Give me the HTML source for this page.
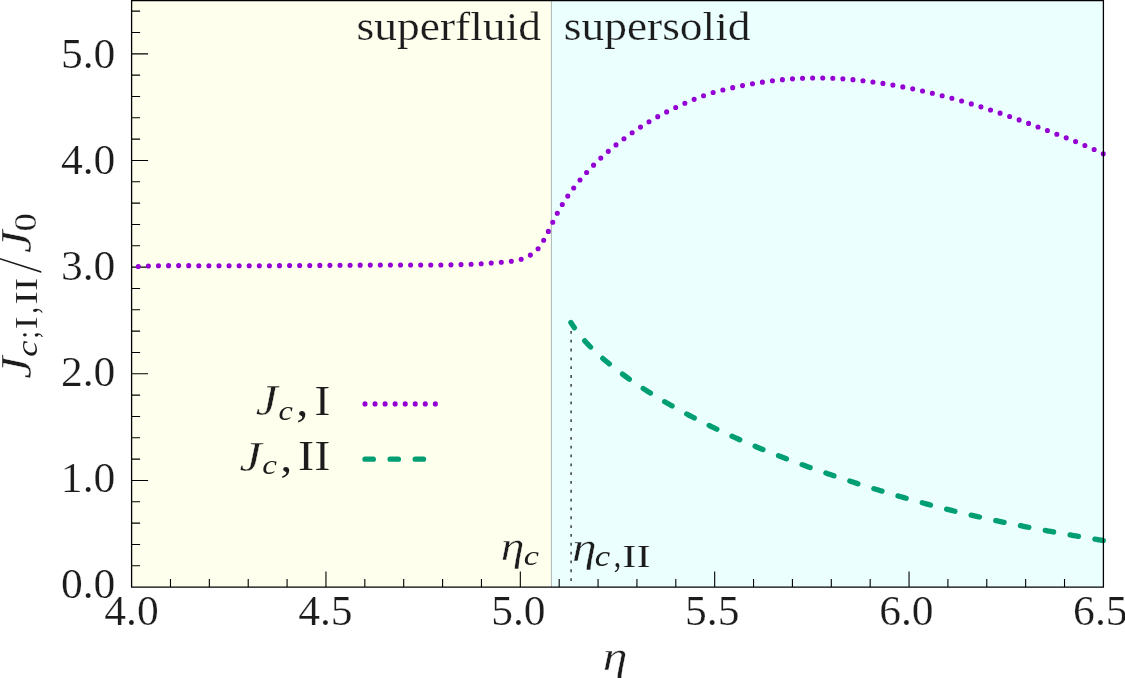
<!DOCTYPE html>
<html lang="en"><head><meta charset="utf-8"><title>Critical current: superfluid vs supersolid</title>
<style>
html,body{margin:0;padding:0;background:#fff;}
body{width:1125px;height:678px;overflow:hidden;}
svg{display:block;}
text{font-family:"Liberation Serif", "DejaVu Serif", serif;fill:#1c1c1c;}
</style></head><body>
<svg width="1125" height="678" viewBox="0 0 1125 678">
<rect width="1125" height="678" fill="#ffffff"/>
<rect x="131.6" y="0" width="419.80" height="587.10" fill="#ffffee"/>
<rect x="551.4" y="0" width="552.00" height="587.10" fill="#ebffff"/>
<line x1="551.4" y1="0" x2="551.4" y2="587.1" stroke="#a9b8b4" stroke-width="1"/>
<line x1="571.1" y1="322.1" x2="571.1" y2="587.1" stroke="#222" stroke-width="1.3" stroke-dasharray="2.8 6.03" stroke-dashoffset="0"/>
<path d="M170.47,587.1v-8 M209.34,587.1v-8 M248.22,587.1v-8 M287.09,587.1v-8 M325.96,587.1v-15.5 M364.83,587.1v-8 M403.70,587.1v-8 M442.58,587.1v-8 M481.45,587.1v-8 M520.32,587.1v-15.5 M559.19,587.1v-8 M598.06,587.1v-8 M636.94,587.1v-8 M675.81,587.1v-8 M714.68,587.1v-15.5 M753.55,587.1v-8 M792.42,587.1v-8 M831.30,587.1v-8 M870.17,587.1v-8 M909.04,587.1v-15.5 M947.91,587.1v-8 M986.78,587.1v-8 M1025.66,587.1v-8 M1064.53,587.1v-8 M131.6,565.77h8.5 M131.6,544.44h8.5 M131.6,523.11h8.5 M131.6,501.78h8.5 M131.6,480.45h16.5 M131.6,459.11h8.5 M131.6,437.78h8.5 M131.6,416.45h8.5 M131.6,395.12h8.5 M131.6,373.79h16.5 M131.6,352.46h8.5 M131.6,331.13h8.5 M131.6,309.80h8.5 M131.6,288.47h8.5 M131.6,267.14h16.5 M131.6,245.81h8.5 M131.6,224.47h8.5 M131.6,203.14h8.5 M131.6,181.81h8.5 M131.6,160.48h16.5 M131.6,139.15h8.5 M131.6,117.82h8.5 M131.6,96.49h8.5 M131.6,75.16h8.5 M131.6,53.83h16.5 M131.6,32.50h8.5 M131.6,11.17h8.5" stroke="#000" stroke-width="1.1" fill="none"/>
<path d="M131.60,266.90 L133.13,266.77 L134.64,266.68 L136.14,266.59 L137.65,266.50 L139.16,266.42 L140.66,266.35 L142.17,266.28 L143.68,266.21 L145.18,266.15 L146.69,266.09 L148.20,266.04 L149.70,265.99 L151.21,265.94 L152.72,265.90 L154.23,265.86 L155.73,265.82 L157.24,265.79 L158.75,265.76 L160.26,265.74 L161.76,265.71 L163.27,265.69 L164.78,265.67 L166.29,265.66 L167.80,265.65 L169.31,265.64 L170.82,265.63 L172.32,265.62 L173.83,265.62 L175.34,265.61 L176.85,265.61 L178.36,265.61 L179.87,265.61 L181.38,265.62 L182.89,265.62 L184.40,265.63 L185.91,265.63 L187.42,265.64 L188.93,265.64 L190.44,265.65 L191.95,265.66 L193.46,265.67 L194.97,265.68 L196.48,265.69 L197.99,265.69 L199.50,265.70 L201.01,265.71 L202.52,265.72 L204.03,265.72 L205.54,265.73 L207.05,265.73 L208.56,265.74 L210.07,265.75 L211.59,265.75 L213.10,265.75 L214.61,265.76 L216.12,265.76 L217.63,265.76 L219.14,265.77 L220.65,265.77 L222.16,265.77 L223.68,265.77 L225.19,265.77 L226.70,265.77 L228.21,265.78 L229.72,265.78 L231.23,265.78 L232.75,265.77 L234.26,265.77 L235.77,265.77 L237.28,265.77 L238.79,265.77 L240.31,265.77 L241.82,265.77 L243.33,265.76 L244.84,265.76 L246.35,265.76 L247.87,265.75 L249.38,265.75 L250.89,265.75 L252.40,265.74 L253.91,265.74 L255.43,265.73 L256.94,265.73 L258.45,265.72 L259.96,265.72 L261.48,265.71 L262.99,265.71 L264.50,265.70 L266.01,265.69 L267.53,265.69 L269.04,265.68 L270.55,265.67 L272.06,265.67 L273.58,265.66 L275.09,265.65 L276.60,265.65 L278.11,265.64 L279.62,265.63 L281.14,265.62 L282.65,265.61 L284.16,265.61 L285.67,265.60 L287.19,265.59 L288.70,265.58 L290.21,265.57 L291.72,265.56 L293.23,265.56 L294.75,265.55 L296.26,265.54 L297.77,265.53 L299.28,265.52 L300.80,265.51 L302.31,265.50 L303.82,265.49 L305.33,265.48 L306.84,265.47 L308.36,265.46 L309.87,265.45 L311.38,265.44 L312.89,265.43 L314.40,265.42 L315.91,265.41 L317.43,265.40 L318.94,265.40 L320.45,265.39 L321.96,265.38 L323.47,265.37 L324.98,265.36 L326.50,265.35 L328.01,265.34 L329.52,265.33 L331.03,265.32 L332.54,265.31 L334.05,265.30 L335.56,265.29 L337.07,265.28 L338.58,265.27 L340.09,265.26 L341.61,265.25 L343.12,265.24 L344.63,265.24 L346.14,265.23 L347.65,265.22 L349.16,265.21 L350.67,265.20 L352.18,265.19 L353.69,265.18 L355.20,265.18 L356.71,265.17 L358.22,265.16 L359.73,265.15 L361.24,265.15 L362.75,265.14 L364.26,265.13 L365.77,265.12 L367.28,265.12 L368.78,265.11 L370.29,265.10 L371.80,265.10 L373.31,265.09 L374.82,265.08 L376.33,265.08 L377.84,265.07 L379.35,265.07 L380.85,265.06 L382.36,265.06 L383.87,265.05 L385.38,265.05 L386.89,265.05 L388.39,265.04 L389.90,265.04 L391.41,265.03 L392.92,265.03 L394.42,265.03 L395.93,265.03 L397.44,265.02 L398.94,265.02 L400.45,265.02 L401.96,265.02 L403.46,265.02 L404.97,265.02 L406.48,265.02 L407.98,265.02 L409.49,265.02 L410.99,265.02 L412.50,265.02 L414.00,265.02 L415.51,265.02 L417.02,265.02 L418.52,265.02 L420.03,265.02 L421.53,265.02 L423.04,265.02 L424.54,265.02 L426.05,265.02 L427.55,265.02 L429.06,265.02 L430.57,265.02 L432.07,265.01 L433.58,265.01 L435.09,265.00 L436.59,264.99 L438.10,264.98 L439.61,264.97 L441.12,264.96 L442.63,264.95 L444.14,264.93 L445.65,264.91 L447.16,264.89 L448.67,264.87 L450.18,264.84 L451.69,264.82 L453.20,264.79 L454.72,264.76 L456.23,264.72 L457.75,264.69 L459.26,264.65 L460.78,264.60 L462.30,264.56 L463.81,264.51 L465.33,264.46 L466.85,264.40 L468.37,264.34 L469.90,264.28 L471.42,264.21 L472.94,264.14 L474.47,264.07 L475.99,263.99 L477.52,263.91 L479.04,263.83 L480.57,263.74 L482.09,263.65 L483.62,263.56 L485.14,263.47 L486.66,263.37 L488.18,263.27 L489.70,263.16 L491.22,263.06 L492.73,262.95 L494.24,262.84 L495.75,262.73 L497.26,262.62 L498.76,262.50 L500.26,262.39 L501.76,262.27 L503.25,262.15 L504.74,262.02 L506.22,261.89 L507.70,261.74 L509.17,261.58 L510.64,261.40 L512.11,261.20 L513.57,260.97 L515.02,260.71 L516.47,260.42 L517.91,260.10 L519.34,259.73 L520.77,259.32 L522.19,258.87 L523.60,258.37 L524.99,257.82 L526.37,257.22 L527.73,256.57 L529.06,255.87 L530.37,255.12 L531.64,254.31 L532.88,253.45 L534.07,252.54 L535.23,251.57 L536.34,250.55 L537.40,249.46 L538.40,248.32 L539.35,247.13 L540.26,245.88 L541.12,244.60 L541.95,243.29 L542.74,241.96 L543.51,240.62 L544.27,239.27 L545.00,237.92 L545.72,236.57 L546.43,235.21 L547.12,233.86 L547.80,232.50 L548.48,231.15 L549.14,229.79 L549.80,228.44 L550.46,227.08 L551.11,225.73 L551.76,224.37 L552.41,223.02 L553.07,221.68 L553.72,220.33 L554.38,218.99 L555.05,217.65 L555.72,216.32 L556.41,214.99 L557.10,213.66 L557.81,212.34 L558.53,211.02 L559.26,209.71 L560.01,208.41 L560.76,207.11 L561.53,205.81 L562.31,204.52 L563.10,203.24 L563.91,201.96 L564.72,200.69 L565.54,199.42 L566.38,198.16 L567.23,196.91 L568.08,195.66 L568.95,194.41 L569.82,193.18 L570.71,191.94 L571.60,190.72 L572.51,189.50 L573.42,188.29 L574.34,187.08 L575.27,185.88 L576.21,184.68 L577.16,183.50 L578.11,182.31 L579.08,181.14 L580.05,179.97 L581.03,178.81 L582.01,177.66 L583.00,176.51 L584.00,175.37 L585.01,174.23 L586.02,173.11 L587.04,171.99 L588.07,170.87 L589.10,169.77 L590.14,168.67 L591.18,167.57 L592.23,166.49 L593.28,165.41 L594.35,164.34 L595.41,163.27 L596.49,162.22 L597.56,161.17 L598.65,160.12 L599.74,159.08 L600.84,158.05 L601.94,157.03 L603.04,156.01 L604.16,155.00 L605.28,153.99 L606.40,152.99 L607.53,152.00 L608.66,151.01 L609.80,150.03 L610.95,149.06 L612.10,148.09 L613.25,147.13 L614.42,146.18 L615.58,145.23 L616.75,144.28 L617.93,143.35 L619.11,142.42 L620.30,141.49 L621.49,140.57 L622.69,139.66 L623.89,138.75 L625.09,137.85 L626.31,136.96 L627.52,136.07 L628.74,135.18 L629.97,134.30 L631.20,133.43 L632.43,132.56 L633.67,131.70 L634.91,130.85 L636.16,130.00 L637.42,129.15 L638.67,128.31 L639.93,127.48 L641.20,126.65 L642.47,125.83 L643.75,125.02 L645.02,124.21 L646.31,123.41 L647.59,122.62 L648.89,121.83 L650.18,121.05 L651.48,120.27 L652.78,119.50 L654.09,118.74 L655.40,117.99 L656.72,117.24 L658.04,116.50 L659.36,115.77 L660.69,115.04 L662.02,114.33 L663.35,113.61 L664.69,112.91 L666.03,112.21 L667.37,111.52 L668.72,110.84 L670.08,110.16 L671.43,109.49 L672.79,108.83 L674.15,108.17 L675.52,107.52 L676.89,106.87 L678.26,106.23 L679.63,105.60 L681.01,104.97 L682.39,104.35 L683.78,103.74 L685.17,103.13 L686.56,102.52 L687.95,101.92 L689.35,101.33 L690.75,100.74 L692.15,100.15 L693.56,99.57 L694.97,99.00 L696.38,98.43 L697.79,97.86 L699.21,97.31 L700.63,96.77 L702.05,96.23 L703.47,95.71 L704.90,95.21 L706.33,94.71 L707.76,94.24 L709.19,93.77 L710.63,93.32 L712.07,92.88 L713.51,92.45 L714.95,92.03 L716.40,91.63 L717.85,91.23 L719.30,90.84 L720.75,90.46 L722.20,90.09 L723.66,89.73 L725.12,89.38 L726.58,89.03 L728.04,88.69 L729.50,88.35 L730.97,88.02 L732.44,87.70 L733.90,87.37 L735.38,87.06 L736.85,86.75 L738.32,86.44 L739.80,86.14 L741.27,85.84 L742.75,85.54 L744.23,85.25 L745.71,84.97 L747.20,84.69 L748.68,84.42 L750.17,84.15 L751.65,83.88 L753.14,83.62 L754.63,83.37 L756.12,83.12 L757.61,82.88 L759.11,82.64 L760.60,82.41 L762.09,82.18 L763.59,81.96 L765.09,81.74 L766.58,81.53 L768.08,81.33 L769.58,81.13 L771.08,80.94 L772.58,80.75 L774.08,80.57 L775.58,80.39 L777.09,80.22 L778.59,80.06 L780.09,79.90 L781.60,79.75 L783.10,79.61 L784.61,79.47 L786.11,79.34 L787.62,79.21 L789.12,79.09 L790.63,78.98 L792.14,78.87 L793.64,78.77 L795.15,78.68 L796.66,78.59 L798.17,78.51 L799.67,78.43 L801.18,78.36 L802.69,78.30 L804.20,78.24 L805.71,78.19 L807.22,78.14 L808.73,78.10 L810.24,78.07 L811.75,78.04 L813.25,78.02 L814.76,78.01 L816.27,78.00 L817.78,78.00 L819.29,78.00 L820.80,78.01 L822.31,78.03 L823.82,78.05 L825.33,78.08 L826.84,78.11 L828.35,78.15 L829.86,78.20 L831.37,78.25 L832.88,78.31 L834.39,78.37 L835.90,78.44 L837.40,78.52 L838.91,78.60 L840.42,78.69 L841.93,78.78 L843.44,78.88 L844.94,78.99 L846.45,79.10 L847.96,79.22 L849.46,79.34 L850.97,79.47 L852.47,79.60 L853.98,79.74 L855.48,79.89 L856.99,80.04 L858.49,80.19 L860.00,80.35 L861.50,80.52 L863.00,80.69 L864.50,80.87 L866.01,81.05 L867.51,81.23 L869.01,81.43 L870.51,81.62 L872.01,81.82 L873.50,82.03 L875.00,82.23 L876.50,82.45 L878.00,82.67 L879.49,82.89 L880.99,83.12 L882.48,83.35 L883.98,83.58 L885.47,83.82 L886.96,84.06 L888.45,84.31 L889.94,84.56 L891.43,84.82 L892.92,85.08 L894.41,85.34 L895.90,85.60 L897.39,85.87 L898.87,86.15 L900.36,86.43 L901.84,86.71 L903.32,86.99 L904.81,87.28 L906.29,87.57 L907.77,87.86 L909.25,88.16 L910.73,88.46 L912.21,88.77 L913.68,89.08 L915.16,89.39 L916.63,89.71 L918.11,90.03 L919.58,90.35 L921.06,90.68 L922.53,91.01 L924.00,91.34 L925.47,91.68 L926.94,92.02 L928.41,92.36 L929.88,92.71 L931.35,93.06 L932.81,93.41 L934.28,93.76 L935.74,94.12 L937.21,94.49 L938.67,94.85 L940.14,95.22 L941.60,95.60 L943.06,95.97 L944.52,96.35 L945.98,96.73 L947.44,97.12 L948.89,97.51 L950.35,97.90 L951.81,98.29 L953.26,98.69 L954.72,99.09 L956.17,99.50 L957.63,99.91 L959.08,100.32 L960.53,100.73 L961.98,101.15 L963.43,101.56 L964.88,101.99 L966.33,102.41 L967.78,102.84 L969.22,103.27 L970.67,103.70 L972.12,104.14 L973.56,104.58 L975.01,105.02 L976.45,105.47 L977.89,105.92 L979.33,106.37 L980.77,106.82 L982.22,107.28 L983.65,107.73 L985.09,108.20 L986.53,108.66 L987.97,109.13 L989.41,109.60 L990.84,110.07 L992.28,110.54 L993.71,111.02 L995.15,111.50 L996.58,111.98 L998.01,112.47 L999.44,112.95 L1000.87,113.44 L1002.30,113.93 L1003.73,114.43 L1005.16,114.93 L1006.59,115.42 L1008.02,115.93 L1009.44,116.43 L1010.87,116.93 L1012.29,117.44 L1013.72,117.95 L1015.14,118.46 L1016.57,118.98 L1017.99,119.49 L1019.41,120.01 L1020.83,120.53 L1022.25,121.05 L1023.67,121.57 L1025.09,122.09 L1026.51,122.62 L1027.92,123.14 L1029.34,123.67 L1030.76,124.20 L1032.17,124.73 L1033.59,125.26 L1035.00,125.80 L1036.41,126.33 L1037.83,126.87 L1039.24,127.41 L1040.65,127.94 L1042.06,128.48 L1043.47,129.02 L1044.88,129.56 L1046.29,130.10 L1047.70,130.65 L1049.10,131.19 L1050.51,131.73 L1051.92,132.28 L1053.32,132.82 L1054.73,133.37 L1056.13,133.91 L1057.54,134.46 L1058.94,135.01 L1060.34,135.56 L1061.74,136.10 L1063.14,136.65 L1064.54,137.20 L1065.94,137.76 L1067.34,138.31 L1068.74,138.87 L1070.14,139.42 L1071.53,139.98 L1072.93,140.55 L1074.33,141.11 L1075.72,141.68 L1077.12,142.25 L1078.51,142.82 L1079.90,143.40 L1081.30,143.98 L1082.69,144.56 L1084.08,145.15 L1085.47,145.74 L1086.86,146.34 L1088.25,146.94 L1089.64,147.54 L1091.03,148.15 L1092.42,148.76 L1093.80,149.38 L1095.19,150.01 L1096.58,150.64 L1097.96,151.28 L1099.35,151.92 L1100.73,152.57 L1102.11,153.22 L1103.40,153.90" fill="none" stroke="#9400d3" stroke-width="5.1" stroke-linecap="round" stroke-dasharray="0 10.085" stroke-dashoffset="3.355"/>
<path d="M570.90,322.58 L571.22,323.07 L571.69,323.79 L572.24,324.62 L572.85,325.52 L573.51,326.48 L574.21,327.49 L574.94,328.52 L575.71,329.59 L576.50,330.67 L577.33,331.77 L578.17,332.88 L579.04,334.00 L579.94,335.12 L580.85,336.25 L581.79,337.38 L582.74,338.51 L583.71,339.64 L584.70,340.76 L585.70,341.89 L586.72,343.00 L587.76,344.12 L588.81,345.23 L589.88,346.33 L590.95,347.43 L592.05,348.52 L593.15,349.61 L594.27,350.69 L595.40,351.77 L596.55,352.84 L597.70,353.90 L598.87,354.96 L600.05,356.01 L601.24,357.06 L602.44,358.10 L603.65,359.14 L604.87,360.18 L606.11,361.22 L607.35,362.25 L608.60,363.29 L609.86,364.32 L611.13,365.35 L612.41,366.38 L613.70,367.40 L615.00,368.42 L616.31,369.44 L617.62,370.46 L618.95,371.48 L620.28,372.49 L621.62,373.50 L622.97,374.50 L624.33,375.50 L625.70,376.50 L627.07,377.49 L628.45,378.48 L629.84,379.47 L631.24,380.45 L632.64,381.43 L634.05,382.40 L635.47,383.37 L636.90,384.34 L638.33,385.30 L639.77,386.26 L641.22,387.22 L642.68,388.17 L644.14,389.12 L645.61,390.06 L647.08,391.00 L648.56,391.94 L650.05,392.87 L651.54,393.80 L653.05,394.73 L654.55,395.65 L656.07,396.57 L657.59,397.49 L659.11,398.40 L660.64,399.31 L662.18,400.22 L663.73,401.12 L665.28,402.02 L666.83,402.92 L668.39,403.82 L669.96,404.72 L671.53,405.61 L673.11,406.50 L674.70,407.39 L676.29,408.28 L677.88,409.17 L679.49,410.05 L681.09,410.93 L682.71,411.81 L684.32,412.68 L685.95,413.56 L687.57,414.43 L689.21,415.30 L690.85,416.16 L692.49,417.02 L694.14,417.88 L695.79,418.74 L697.45,419.60 L699.12,420.45 L700.79,421.30 L702.46,422.14 L704.14,422.99 L705.82,423.83 L707.51,424.67 L709.21,425.50 L710.91,426.33 L712.61,427.16 L714.32,427.99 L716.03,428.81 L717.75,429.64 L719.47,430.45 L721.20,431.27 L722.93,432.08 L724.66,432.89 L726.40,433.70 L728.15,434.50 L729.90,435.30 L731.65,436.10 L733.41,436.89 L735.17,437.69 L736.94,438.48 L738.71,439.26 L740.49,440.04 L742.27,440.83 L744.05,441.60 L745.84,442.38 L747.63,443.15 L749.43,443.92 L751.23,444.68 L753.04,445.45 L754.85,446.21 L756.66,446.97 L758.48,447.72 L760.30,448.47 L762.13,449.22 L763.96,449.97 L765.79,450.71 L767.63,451.45 L769.47,452.19 L771.32,452.93 L773.17,453.66 L775.02,454.39 L776.88,455.12 L778.74,455.85 L780.60,456.57 L782.47,457.29 L784.35,458.01 L786.22,458.73 L788.10,459.44 L789.99,460.15 L791.88,460.86 L793.77,461.57 L795.66,462.27 L797.56,462.97 L799.46,463.67 L801.37,464.37 L803.28,465.07 L805.20,465.76 L807.11,466.45 L809.03,467.14 L810.96,467.83 L812.89,468.52 L814.82,469.20 L816.75,469.89 L818.69,470.57 L820.63,471.24 L822.58,471.92 L824.53,472.59 L826.48,473.27 L828.44,473.94 L830.40,474.61 L832.36,475.27 L834.33,475.94 L836.30,476.60 L838.27,477.26 L840.25,477.92 L842.23,478.58 L844.21,479.23 L846.20,479.88 L848.19,480.53 L850.18,481.18 L852.18,481.83 L854.18,482.48 L856.18,483.12 L858.19,483.76 L860.20,484.40 L862.21,485.04 L864.22,485.67 L866.24,486.31 L868.27,486.94 L870.29,487.57 L872.32,488.20 L874.35,488.82 L876.39,489.45 L878.42,490.07 L880.47,490.69 L882.51,491.31 L884.56,491.93 L886.61,492.55 L888.66,493.16 L890.72,493.77 L892.78,494.38 L894.84,494.99 L896.91,495.60 L898.98,496.20 L901.05,496.80 L903.12,497.40 L905.20,498.00 L907.28,498.59 L909.37,499.18 L911.45,499.77 L913.54,500.36 L915.63,500.94 L917.73,501.52 L919.83,502.10 L921.93,502.68 L924.03,503.25 L926.14,503.82 L928.25,504.39 L930.37,504.96 L932.48,505.52 L934.60,506.08 L936.72,506.63 L938.85,507.19 L940.97,507.74 L943.10,508.29 L945.24,508.83 L947.37,509.37 L949.51,509.91 L951.65,510.44 L953.80,510.97 L955.94,511.50 L958.09,512.02 L960.25,512.55 L962.40,513.06 L964.56,513.58 L966.72,514.09 L968.88,514.60 L971.05,515.10 L973.22,515.60 L975.39,516.10 L977.56,516.60 L979.74,517.09 L981.92,517.58 L984.10,518.07 L986.29,518.55 L988.47,519.03 L990.66,519.51 L992.86,519.99 L995.05,520.46 L997.25,520.93 L999.45,521.40 L1001.66,521.86 L1003.86,522.32 L1006.07,522.78 L1008.28,523.24 L1010.49,523.69 L1012.71,524.15 L1014.93,524.59 L1017.15,525.04 L1019.38,525.49 L1021.60,525.93 L1023.83,526.37 L1026.06,526.80 L1028.30,527.24 L1030.53,527.67 L1032.77,528.10 L1035.01,528.53 L1037.26,528.96 L1039.51,529.38 L1041.75,529.80 L1044.01,530.22 L1046.26,530.64 L1048.52,531.06 L1050.78,531.47 L1053.04,531.88 L1055.30,532.29 L1057.57,532.70 L1059.84,533.11 L1062.11,533.51 L1064.38,533.92 L1066.66,534.32 L1068.94,534.72 L1071.22,535.12 L1073.50,535.52 L1075.79,535.91 L1078.07,536.31 L1080.36,536.70 L1082.66,537.10 L1084.95,537.49 L1087.25,537.88 L1089.55,538.26 L1091.85,538.65 L1094.16,539.04 L1096.46,539.42 L1098.77,539.81 L1101.09,540.19 L1103.40,540.58" fill="none" stroke="#009e73" stroke-width="5.3" stroke-linecap="round" stroke-dasharray="8.5 16.72" stroke-dashoffset="2.3"/>
<line x1="365" y1="403.9" x2="437" y2="403.9" stroke="#9400d3" stroke-width="5.1" stroke-linecap="round" stroke-dasharray="0 10.05"/>
<line x1="365" y1="459.2" x2="437" y2="459.2" stroke="#009e73" stroke-width="5.3" stroke-linecap="round" stroke-dasharray="8.3 16.8"/>
<path d="M131.6,587.1V0.5H1103.4V587.1Z" stroke="#000" stroke-width="1.3" fill="none"/>
<g>
<text transform="matrix(0.4358 0 0 0.4184 60.88 597.80)" font-size="100" stroke="#ffffff" stroke-width="0.59">0.0</text>
<text transform="matrix(0.4359 0 0 0.4184 60.87 491.80)" font-size="100" stroke="#ffffff" stroke-width="0.59">1.0</text>
<text transform="matrix(0.4358 0 0 0.4184 60.88 385.80)" font-size="100" stroke="#ffffff" stroke-width="0.59">2.0</text>
<text transform="matrix(0.4358 0 0 0.4184 60.88 279.80)" font-size="100" stroke="#ffffff" stroke-width="0.59">3.0</text>
<text transform="matrix(0.4358 0 0 0.4184 60.89 173.80)" font-size="100" stroke="#ffffff" stroke-width="0.59">4.0</text>
<text transform="matrix(0.4358 0 0 0.4184 60.88 67.80)" font-size="100" stroke="#ffffff" stroke-width="0.59">5.0</text>
<text transform="matrix(0.4358 0 0 0.4169 104.30 625.40)" font-size="100" stroke="#ffffff" stroke-width="0.59">4.0</text>
<text transform="matrix(0.4358 0 0 0.4216 298.20 625.39)" font-size="100" stroke="#ffffff" stroke-width="0.58">4.5</text>
<text transform="matrix(0.4358 0 0 0.4169 491.17 625.40)" font-size="100" stroke="#ffffff" stroke-width="0.59">5.0</text>
<text transform="matrix(0.4358 0 0 0.4231 685.08 625.39)" font-size="100" stroke="#ffffff" stroke-width="0.58">5.5</text>
<text transform="matrix(0.4358 0 0 0.4169 879.20 625.40)" font-size="100" stroke="#ffffff" stroke-width="0.59">6.0</text>
<text transform="matrix(0.4358 0 0 0.4185 1073.11 625.40)" font-size="100" stroke="#ffffff" stroke-width="0.59">6.5</text>
</g>
<text transform="matrix(0.4553 0 0 0.3995 356.45 40.04)" font-size="100" stroke="#ffffee" stroke-width="0.58">superfluid</text>
<text transform="matrix(0.4546 0 0 0.4006 563.76 40.01)" font-size="100" stroke="#ebffff" stroke-width="0.58">supersolid</text>
<text transform="matrix(0.4976 0 0 0.4103 602.86 670.08)" font-size="100" font-style="italic" stroke="#ffffff" stroke-width="0.88">η</text>
<text transform="matrix(0.4762 0 0 0.3956 500.73 560.49)" font-size="100" font-style="italic" stroke="#ffffee" stroke-width="0.92">η</text>
<text transform="matrix(0.3429 0 0 0.2792 523.87 564.92)" font-size="100" font-style="italic">c</text>
<text transform="matrix(0.4952 0 0 0.3927 571.97 560.56)" font-size="100" font-style="italic" stroke="#ebffff" stroke-width="0.90">η</text>
<text transform="matrix(0.3478 0 0 0.2896 594.86 566.31)" font-size="100" font-style="italic">c</text>
<text transform="matrix(0.3000 0 0 0.3573 613.67 566.96)" font-size="100">,</text>
<text transform="matrix(0.4269 0 0 0.3221 622.21 567.00)" font-size="100" stroke="#ebffff" stroke-width="0.53">II</text>
<text transform="matrix(0.4941 0 0 0.4331 255.86 415.37)" font-size="100" font-style="italic" stroke="#ffffee" stroke-width="0.86">J</text>
<text transform="matrix(0.3230 0 0 0.2708 278.53 419.53)" font-size="100" font-style="italic">c</text>
<text transform="matrix(0.4867 0 0 0.4427 296.28 416.04)" font-size="100">,</text>
<text transform="matrix(0.4895 0 0 0.4176 314.16 414.82)" font-size="100" stroke="#ffffee" stroke-width="0.55">I</text>
<text transform="matrix(0.4963 0 0 0.4271 239.56 470.67)" font-size="100" font-style="italic" stroke="#ffffee" stroke-width="0.87">J</text>
<text transform="matrix(0.3304 0 0 0.2667 262.31 474.33)" font-size="100" font-style="italic">c</text>
<text transform="matrix(0.4667 0 0 0.4233 280.45 471.44)" font-size="100">,</text>
<text transform="matrix(0.4882 0 0 0.4130 297.97 470.02)" font-size="100" stroke="#ffffee" stroke-width="0.55">II</text>
<g transform="rotate(-90)">
<text transform="matrix(0.5005 0 0 0.4421 -378.75 30.96)" font-size="100" font-style="italic" stroke="#ffffff" stroke-width="0.85">J</text>
<text transform="matrix(0.3627 0 0 0.2875 -356.79 36.91)" font-size="100" font-style="italic">c</text>
<text transform="matrix(0.2667 0 0 0.3056 -338.60 38.16)" font-size="100">;</text>
<text transform="matrix(0.3924 0 0 0.3237 -329.57 37.10)" font-size="100" stroke="#ffffff" stroke-width="0.56">I</text>
<text transform="matrix(0.2600 0 0 0.3689 -313.58 36.88)" font-size="100">,</text>
<text transform="matrix(0.4101 0 0 0.3237 -304.84 37.10)" font-size="100" stroke="#ffffff" stroke-width="0.55">II</text>
<text transform="matrix(0.6126 0 0 0.6537 -273.85 41.00)" font-size="100" stroke="#ffffff" stroke-width="2.05">/</text>
<text transform="matrix(0.5048 0 0 0.4421 -252.96 30.96)" font-size="100" font-style="italic" stroke="#ffffff" stroke-width="0.84">J</text>
<text transform="matrix(0.3694 0 0 0.3230 -231.39 36.28)" font-size="100" stroke="#ffffff" stroke-width="0.58">0</text>
</g>
</svg></body></html>
